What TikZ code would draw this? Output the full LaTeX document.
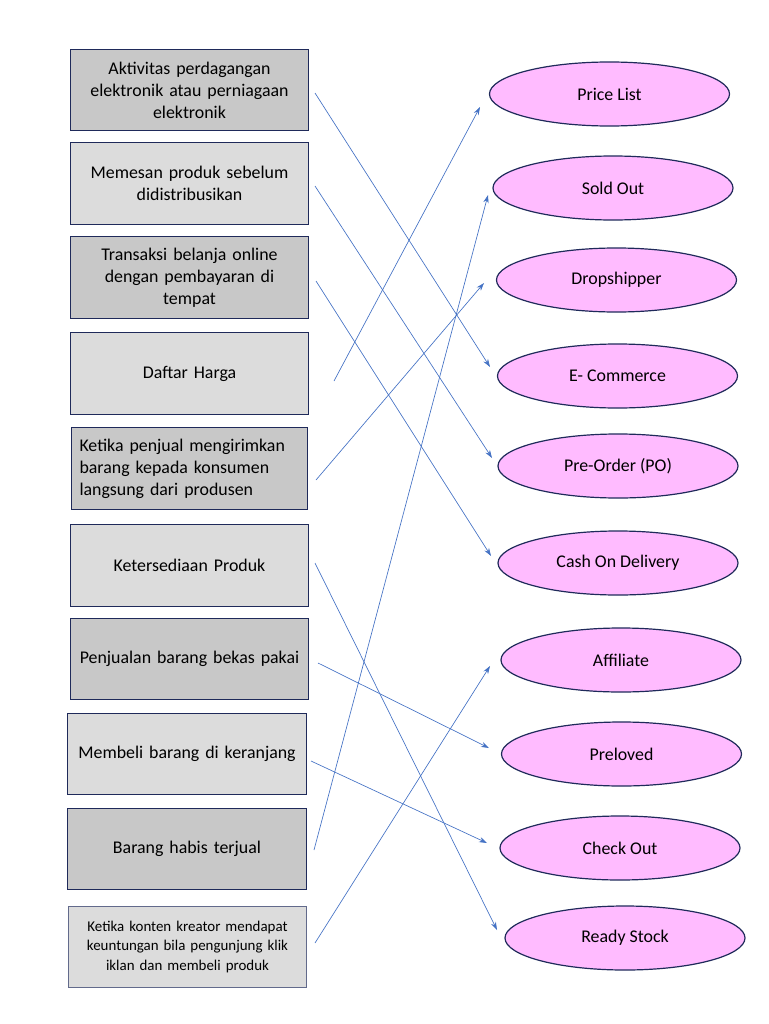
\documentclass[tikz,border=0pt]{standalone}
\usepackage{fontspec}
\setmainfont{Carlito}
\usetikzlibrary{shapes.geometric,arrows.meta}
\definecolor{navy}{HTML}{1F2A5A}
\definecolor{dg}{HTML}{C8C8C8}
\definecolor{lg}{HTML}{DCDCDC}
\definecolor{pk}{HTML}{FFBBFF}
\definecolor{ar}{HTML}{4472C4}
\begin{document}
\begin{tikzpicture}[x=0.75pt,y=-0.75pt,
 box/.style={draw=navy,line width=0.9pt,minimum width=177pt,minimum height=61pt,align=center,font=\fontsize{13.4}{16.5}\selectfont,text width=172pt},
 dbox/.style={box,fill=dg},
 lbox/.style={box,fill=lg},
 ell/.style={ellipse,draw=navy,line width=0.9pt,fill=pk,minimum width=180pt,minimum height=48pt,font=\fontsize{13.4}{16}\selectfont},
 con/.style={draw=ar,line width=0.5pt,-{Stealth[length=6pt,width=4pt]}}]
\useasboundingbox (0,0) rectangle (768,1024);
\node[dbox] (b1) at (189.5,90) {Aktivitas perdagangan\\elektronik atau perniagaan\\elektronik};
\node[lbox] (b2) at (189.5,183.5) {Memesan produk sebelum\\didistribusikan};
\node[dbox] (b3) at (189.5,277.5) {Transaksi belanja online\\dengan pembayaran di\\tempat};
\node[lbox] (b4) at (189.5,373.5) {Daftar Harga};
\node[dbox,align=left,text width=165pt] (b5) at (189.5,468.5) {Ketika penjual mengirimkan\\barang kepada konsumen\\langsung dari produsen};
\node[lbox] (b6) at (189.5,565.5) {Ketersediaan Produk};
\node[dbox] (b7) at (189.5,659) {Penjualan barang bekas pakai};
\node[lbox] (b8) at (187,754) {Membeli barang di keranjang};
\node[dbox] (b9) at (187,849) {Barang habis terjual};
\node[lbox,draw=navy!70,line width=0.6pt,font=\fontsize{11.2}{14.5}\selectfont] (b10) at (187.5,947) {Ketika konten kreator mendapat\\keuntungan bila pengunjung klik\\iklan dan membeli produk};
\node[ell] (e1) at (609.5,94) {Price List};
\node[ell] (e2) at (613,188) {Sold Out};
\node[ell] (e3) at (616.5,280) {Dropshipper};
\node[ell] (e4) at (617.5,376) {E- Commerce};
\node[ell] (e5) at (618,466) {Pre-Order (PO)};
\node[ell] (e6) at (618,563) {Cash On Delivery};
\node[ell] (e7) at (621,660) {Affiliate};
\node[ell] (e8) at (621.5,754) {Preloved};
\node[ell] (e9) at (620,848) {Check Out};
\node[ell] (e10) at (625,938) {Ready Stock};
\coordinate (s1) at (315,93);
\coordinate (s2) at (315,186);
\coordinate (s3) at (316,281);
\coordinate (s4) at (334,381);
\coordinate (s5) at (316,480);
\coordinate (s6) at (315,563);
\coordinate (s7) at (318,663);
\coordinate (s8) at (311,761);
\coordinate (s9) at (314,850);
\coordinate (s10) at (315,943);
\coordinate (t1) at (490,367);
\coordinate (t2) at (492,458);
\coordinate (t3) at (491,556);
\coordinate (t4) at (480,107);
\coordinate (t5) at (484,283);
\coordinate (t6) at (497,930);
\coordinate (t7) at (489,748);
\coordinate (t8) at (487,843);
\coordinate (t9) at (488,195);
\coordinate (t10) at (490,666);
\foreach \i in {1,...,10} {\draw[con] (s\i) -- (t\i);}
\end{tikzpicture}
\end{document}
